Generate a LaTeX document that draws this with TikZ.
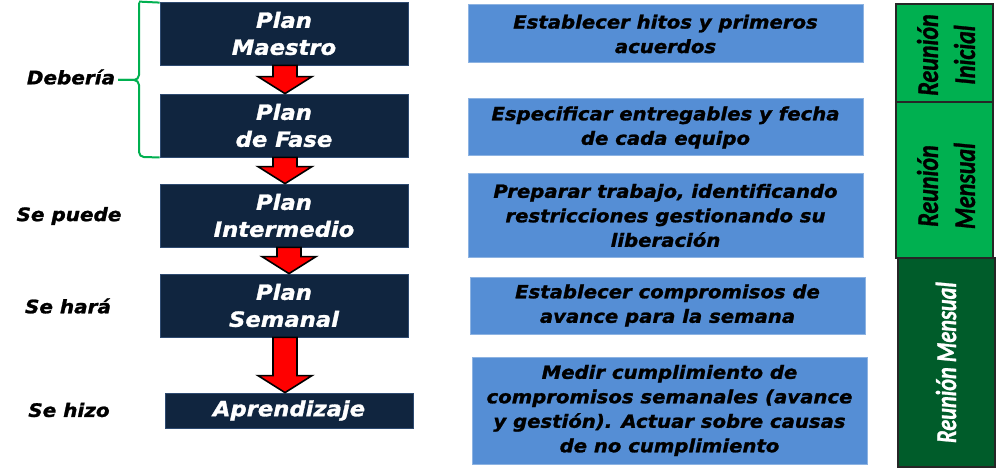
\documentclass[tikz,border=0pt]{standalone}
\usepackage{fontspec}
\usetikzlibrary{calc}
\newfontfamily\vbfont[FakeStretch=1.08,FakeBold=1.3]{DejaVu Sans}
\newfontfamily\cbfont[FakeStretch=0.8,FakeBold=1]{Carlito}
\newfontfamily\cbfontw[FakeStretch=0.77,FakeBold=0.8]{Carlito}
\definecolor{navy}{HTML}{10253F}
\definecolor{navyedge}{HTML}{2E4A70}
\definecolor{bluebox}{HTML}{558ED5}
\definecolor{blueedge}{HTML}{8DB3E2}
\definecolor{meetgreen}{HTML}{00B050}
\definecolor{meetdark}{HTML}{005C2A}
\definecolor{meetedge}{HTML}{262626}
\newcommand\redarr[3]{%
  \coordinate (atop) at (#3,0 |- #1.south);
  \coordinate (atip) at (#3,0 |- #2.north);
  \draw[redarrow] ($(atop)+(-12,0)$) -- ($(atip)+(-12,-17)$) -- ($(atip)+(-27,-17)$) -- (atip)
    -- ($(atip)+(27,-17)$) -- ($(atip)+(12,-17)$) -- ($(atop)+(12,0)$) -- cycle;
}
\begin{document}
\begin{tikzpicture}[x=1pt,y=-1pt,
  plan/.style={fill=navy,draw=navyedge,line width=0.8pt,text=white,align=center,
    inner sep=0pt,minimum width=248pt,
    font=\vbfont\bfseries\itshape\fontsize{21}{27}\selectfont},
  desc/.style={fill=bluebox,draw=blueedge,line width=1pt,text=black,align=center,
    inner sep=0pt,minimum width=395pt,
    font=\vbfont\bfseries\itshape\fontsize{18.2}{24.5}\selectfont},
  lab/.style={text=black,inner sep=0pt,
    font=\vbfont\bfseries\itshape\fontsize{18.5}{22}\selectfont},
  meet/.style={draw=meetedge,line width=2pt,inner sep=0pt,minimum width=97pt},
  meettext/.style={rotate=90,align=center,inner sep=0pt},
  redarrow/.style={fill=red,draw=black,line width=1.6pt,line join=miter},
  bracestyle/.style={draw=meetgreen,line width=2pt,rounded corners=5pt}]
\useasboundingbox (0,0) rectangle (1000,473);
\fill[white] (0,0) rectangle (1000,473);

% plan boxes
\node[plan,minimum height=63pt] (b1) at (284,33.5) {Plan\\Maestro};
\node[plan,minimum height=63pt] (b2) at (284,125.5) {Plan\\de Fase};
\node[plan,minimum height=63pt] (b3) at (284,215.5) {Plan\\Intermedio};
\node[plan,minimum height=63pt] (b4) at (284,305.5) {Plan\\Semanal};
\node[plan,minimum height=35pt] (b5) at (289,410.5) {Aprendizaje};

% red arrows
\redarr{b1}{b2}{285}
\redarr{b2}{b3}{285}
\redarr{b3}{b4}{289}
\redarr{b4}{b5}{285}

% left labels
\node[lab] (deb) at (71,77) {Debería};
\node[lab] (pue) at (69,216) {Se puede};
\node[lab] (har) at (68,306) {Se hará};
\node[lab] (hiz) at (69,410) {Se hizo};

% brace
\coordinate (btip) at (118,80);
\draw[bracestyle] ($(b1.north west)+(0,1)$) -- (139,0 |- b1.north west) ++(0,1) -- (139,80) -- (btip);
\draw[bracestyle] (btip) -- (139,80) -- (139,157) -- (b2.south west);

% description boxes
\node[desc,minimum height=58pt] (c1) at (665.5,34) {Establecer hitos y primeros\\acuerdos};
\node[desc,minimum height=57pt] (c2) at (665.5,127.5) {Especificar entregables y fecha\\de cada equipo};
\node[desc,minimum height=83pt] (c3) at (665.5,215.5) {Preparar trabajo, identificando\\restricciones gestionando su\\liberación};
\node[desc,minimum height=57pt] (c4) at (667.5,305.5) {Establecer compromisos de\\avance para la semana};
\node[desc,minimum height=107pt] (c5) at (669.5,410.5) {Medir cumplimiento de\\compromisos semanales (avance\\y gestión). Actuar sobre causas\\de no cumplimiento};

% meeting column
\node[meet,fill=meetgreen,minimum height=98pt] (g1) at (944.5,53) {};
\node[meet,fill=meetgreen,minimum height=156pt] (g2) at (944.5,180) {};
\node[meet,fill=meetdark,minimum height=209pt] (g3) at (946,362.5) {};
\node[meettext,text=black,font=\cbfont\bfseries\itshape\fontsize{30}{37}\selectfont] (t1) at (946,55) {Reunión\\Inicial};
\node[meettext,text=black,font=\cbfont\bfseries\itshape\fontsize{30}{37}\selectfont] (t2) at (946,186) {Reunión\\Mensual};
\node[meettext,text=white,font=\cbfontw\bfseries\itshape\fontsize{29}{35}\selectfont] (t3) at (946,362.5) {Reunión Mensual};
\end{tikzpicture}
\end{document}
